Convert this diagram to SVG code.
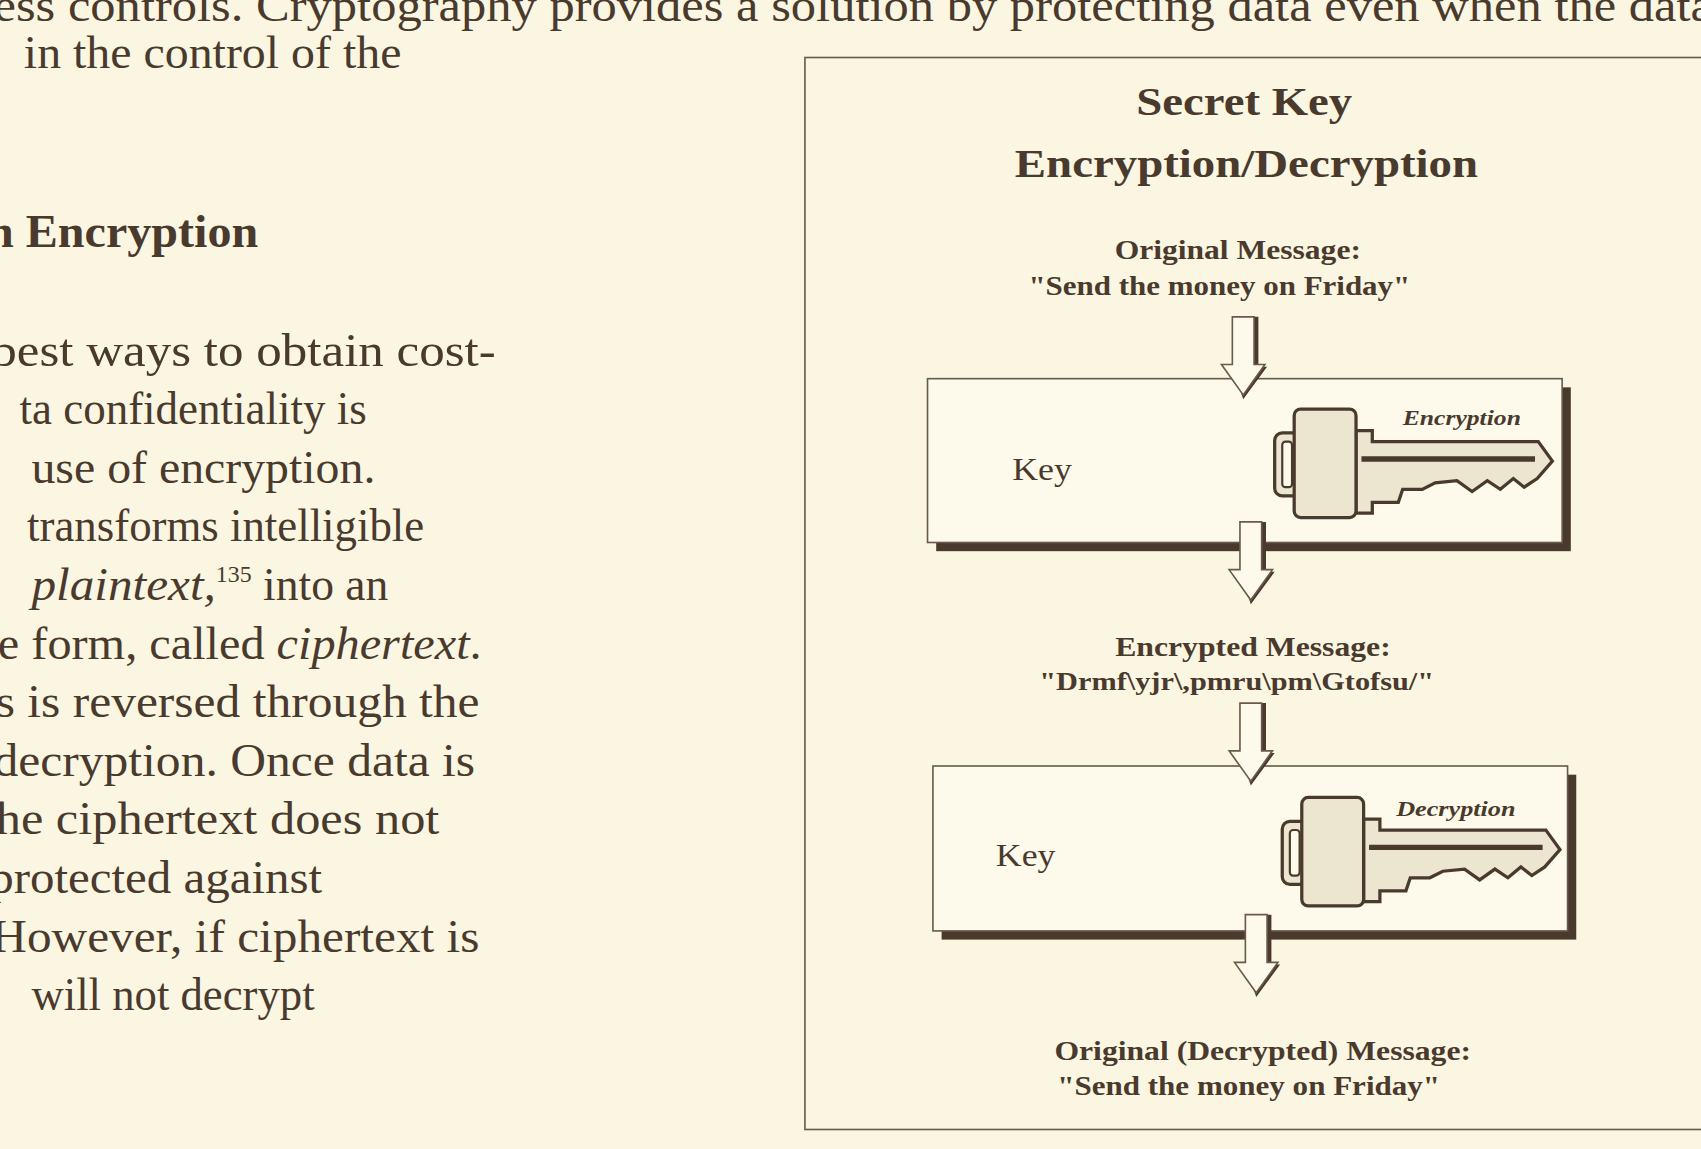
<svg xmlns="http://www.w3.org/2000/svg" width="1701" height="1149" viewBox="0 0 1701 1149">
<style>
.body{font-family:"Liberation Serif",serif;font-size:42px;fill:#4a3a2e}
.d{font-family:"Liberation Serif",serif;font-weight:bold;fill:#4a3a2e;text-anchor:middle}
.k{font-family:"Liberation Serif",serif;font-size:30px;fill:#4a3a2e}
.lbl{font-family:"Liberation Serif",serif;font-size:20px;font-style:italic;font-weight:bold;fill:#4a3a2e}
.box{fill:#fdfaec;stroke:#6a5a4c;stroke-width:1.5}
.sh{fill:#4a3a2e}
.arr{fill:#fdfaec;stroke:#6a5a4c;stroke-width:1.5}
</style>
<defs>
<g id="arrow">
<path class="sh" d="M10,0 L14,0 L14,46 L22,46 L0,76 L-2,70 L10,56 Z"/>
<path class="arr" d="M-10,0 L10,0 L10,44 L20,44 L0,72 L-20,44 L-10,44 Z"/>
</g>
<g id="key">
<path d="M57,20 L72,20 L72,30 L225,30 L238,48 L224,64 L212,72 L202,64 L190,74 L178,66 L164,76 L150,66 L130,68 L118,74 L100,74 L96,86 L72,86 L72,96 L57,96 Z" fill="#ece6d0" stroke="#4a3a2e" stroke-width="3"/>
<line x1="62" y1="46" x2="222" y2="46" stroke="#4a3a2e" stroke-width="5"/>
<rect x="-18" y="22" width="26" height="58" rx="7" fill="#ece6d0" stroke="#4a3a2e" stroke-width="3"/>
<rect x="-11" y="30" width="9" height="42" rx="3" fill="#fdfaec" stroke="#4a3a2e" stroke-width="2"/>
<rect x="0" y="0" width="57" height="100" rx="6" fill="#ece6d0" stroke="#4a3a2e" stroke-width="3"/>
</g>
</defs>
<rect width="1701" height="1149" fill="#fbf6e2"/>
<g transform="scale(1.08482 1.085)">
<g id="page-text" class="body">
<text x="-6" y="19" textLength="1585" lengthAdjust="spacingAndGlyphs">ess controls.  Cryptography provides a solution by protecting data even when the data</text>
<text x="22" y="63" textLength="348" lengthAdjust="spacingAndGlyphs">in the control of the</text>
<text x="-12" y="228" font-weight="bold" textLength="250" lengthAdjust="spacingAndGlyphs">n Encryption</text>
<text x="-8" y="337" textLength="465" lengthAdjust="spacingAndGlyphs">best ways to obtain cost-</text>
<text x="18" y="391" textLength="320" lengthAdjust="spacingAndGlyphs">ta confidentiality is</text>
<text x="29" y="445" textLength="317" lengthAdjust="spacingAndGlyphs">use of encryption.</text>
<text x="25" y="499" textLength="366" lengthAdjust="spacingAndGlyphs">transforms intelligible</text>
<text x="29" y="553"><tspan font-style="italic" textLength="170" lengthAdjust="spacingAndGlyphs">plaintext,</tspan><tspan font-size="22" dy="-17">135</tspan><tspan dy="17"> into an</tspan></text>
<text x="-2" y="607" textLength="446" lengthAdjust="spacingAndGlyphs">e form, called <tspan font-style="italic">ciphertext</tspan>.</text>
<text x="-4" y="661" textLength="446" lengthAdjust="spacingAndGlyphs">s is reversed through the</text>
<text x="-6" y="715" textLength="444" lengthAdjust="spacingAndGlyphs">decryption.  Once data is</text>
<text x="-4" y="769" textLength="409" lengthAdjust="spacingAndGlyphs">he ciphertext does not</text>
<text x="-10" y="823" textLength="307" lengthAdjust="spacingAndGlyphs">protected against</text>
<text x="-8" y="877" textLength="450" lengthAdjust="spacingAndGlyphs">However, if ciphertext is</text>
<text x="29" y="931" textLength="261" lengthAdjust="spacingAndGlyphs">will not decrypt</text>
</g>
<rect x="742" y="53" width="900" height="988" fill="none" stroke="#6a5a4c" stroke-width="1.5"/>
<g id="title">
<text class="d" x="1147" y="106" font-size="36" textLength="199" lengthAdjust="spacingAndGlyphs">Secret Key</text>
<text class="d" x="1149" y="163" font-size="36" textLength="427" lengthAdjust="spacingAndGlyphs">Encryption/Decryption</text>
</g>
<g id="msg1">
<text class="d" x="1141" y="239" font-size="26" textLength="227" lengthAdjust="spacingAndGlyphs">Original Message:</text>
<text class="d" x="1124" y="272" font-size="26" textLength="352" lengthAdjust="spacingAndGlyphs">"Send the money on Friday"</text>
</g>
<g id="box1">
<rect class="sh" x="863" y="357" width="585" height="151"/>
<rect class="box" x="855" y="349" width="585" height="151"/>
<text class="k" x="933" y="442" textLength="55" lengthAdjust="spacingAndGlyphs">Key</text>
<use href="#key" x="1193" y="377"/>
<text class="lbl" x="1293" y="392" textLength="109" lengthAdjust="spacingAndGlyphs">Encryption</text>
</g>
<g id="msg2">
<text class="d" x="1155" y="605" font-size="26" textLength="254" lengthAdjust="spacingAndGlyphs">Encrypted Message:</text>
<text class="d" x="1140" y="636" font-size="24" font-weight="normal" textLength="364" lengthAdjust="spacingAndGlyphs">"Drmf\yjr\,pmru\pm\Gtofsu/"</text>
</g>
<g id="box2">
<rect class="sh" x="868" y="714" width="585" height="152"/>
<rect class="box" x="860" y="706" width="585" height="152"/>
<text class="k" x="918" y="798" textLength="55" lengthAdjust="spacingAndGlyphs">Key</text>
<use href="#key" x="1200" y="735"/>
<text class="lbl" x="1287" y="752" textLength="110" lengthAdjust="spacingAndGlyphs">Decryption</text>
</g>
<g id="msg3">
<text class="d" x="1164" y="977" font-size="26" textLength="384" lengthAdjust="spacingAndGlyphs">Original (Decrypted) Message:</text>
<text class="d" x="1151" y="1009" font-size="26" textLength="353" lengthAdjust="spacingAndGlyphs">"Send the money on Friday"</text>
</g>
<g id="connectors">
<use href="#arrow" x="1146" y="292"/>
<use href="#arrow" x="1153" y="481"/>
<use href="#arrow" x="1153" y="648"/>
<use href="#arrow" x="1158" y="843"/>
</g>
</g>
</svg>
